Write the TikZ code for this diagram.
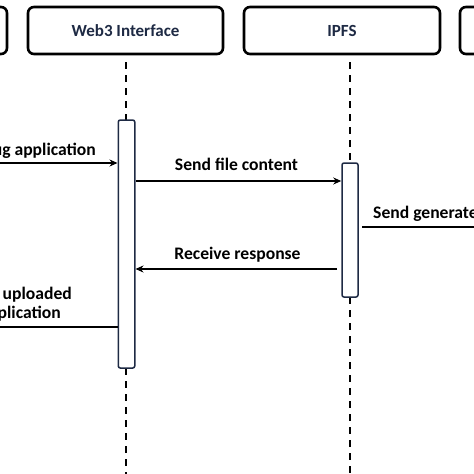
\documentclass[tikz,border=0pt]{standalone}
\usepackage{fontspec}
\setmainfont{Carlito}
\usetikzlibrary{arrows.meta}
\definecolor{navy}{HTML}{1E2A44}
\tikzset{
  actor/.style={draw=black, line width=2.6pt, rounded corners=6pt, fill=white},
  actortext/.style={font=\fontsize{17}{19}\selectfont\bfseries, text=navy},
  lifeline/.style={line width=2pt, dash pattern=on 7pt off 6pt},
  activation/.style={draw=navy, line width=1.5pt, rounded corners=2pt, fill=white},
  msg/.style={line width=2pt, -{Stealth[length=8pt,width=7pt]}},
  msgplain/.style={line width=2pt},
  lbl/.style={font=\fontsize{17.6}{20}\selectfont\bfseries, text=black, inner sep=0pt}
}
\begin{document}
\begin{tikzpicture}[x=1pt,y=-1pt]
\useasboundingbox (0,0) rectangle (474,474);
\clip (0,0) rectangle (474,474);
% actor boxes
\draw[actor] (-100,7) rectangle (7,54);
\draw[actor] (28,7) rectangle (223,54);
\node[actortext] (web3) at (125.5,31) {Web3 Interface};
\draw[actor] (244,7) rectangle (440,54);
\node[actortext] (ipfs) at (342,31) {IPFS};
\draw[actor] (460,7) rectangle (600,54);
% lifelines
\coordinate (w1) at (126,62);
\coordinate (w2) at (126,120);
\coordinate (w3) at (126,368);
\coordinate (w4) at (126,476);
\coordinate (p1) at (350,62);
\coordinate (p2) at (350,163);
\coordinate (p3) at (350,297);
\coordinate (p4) at (350,476);
\draw[lifeline] (w1) -- (w2);
\draw[lifeline] (w3) -- (w4);
\draw[lifeline] (p1) -- (p2);
\draw[lifeline] (p3) -- (p4);
% activation bars
\node[activation, minimum width=16.5pt, minimum height=248pt, inner sep=0pt] (wbar) at (126.5,244) {};
\node[activation, minimum width=16pt, minimum height=134pt, inner sep=0pt] (pbar) at (350,230) {};
% messages
\coordinate (a0) at (-5,163);
\draw[msg] (a0) -- (wbar.west |- a0);
\node[lbl, anchor=base east] (l1) at (96,155) {ug application};
\draw[msg] (wbar.east |- 0,181) -- (pbar.west |- 0,181);
\node[lbl, anchor=base] (l2) at (236.5,170) {Send file content};
\coordinate (g1) at (362,227);
\coordinate (g2) at (480,227);
\draw[msgplain] (g1) -- (g2);
\node[lbl, anchor=base west] (l3) at (373,218) {Send generated};
\coordinate (r1) at (337,269);
\draw[msg] (r1) -- (wbar.east |- r1);
\node[lbl, anchor=base] (l4) at (237.5,259) {Receive response};
\coordinate (u0) at (-5,327);
\draw[msgplain] (u0) -- (wbar.west |- u0);
\node[lbl, anchor=base east] (l5) at (72,299) {uploaded};
\node[lbl, anchor=base east] (l6) at (61,318) {plication};
\end{tikzpicture}
\end{document}
